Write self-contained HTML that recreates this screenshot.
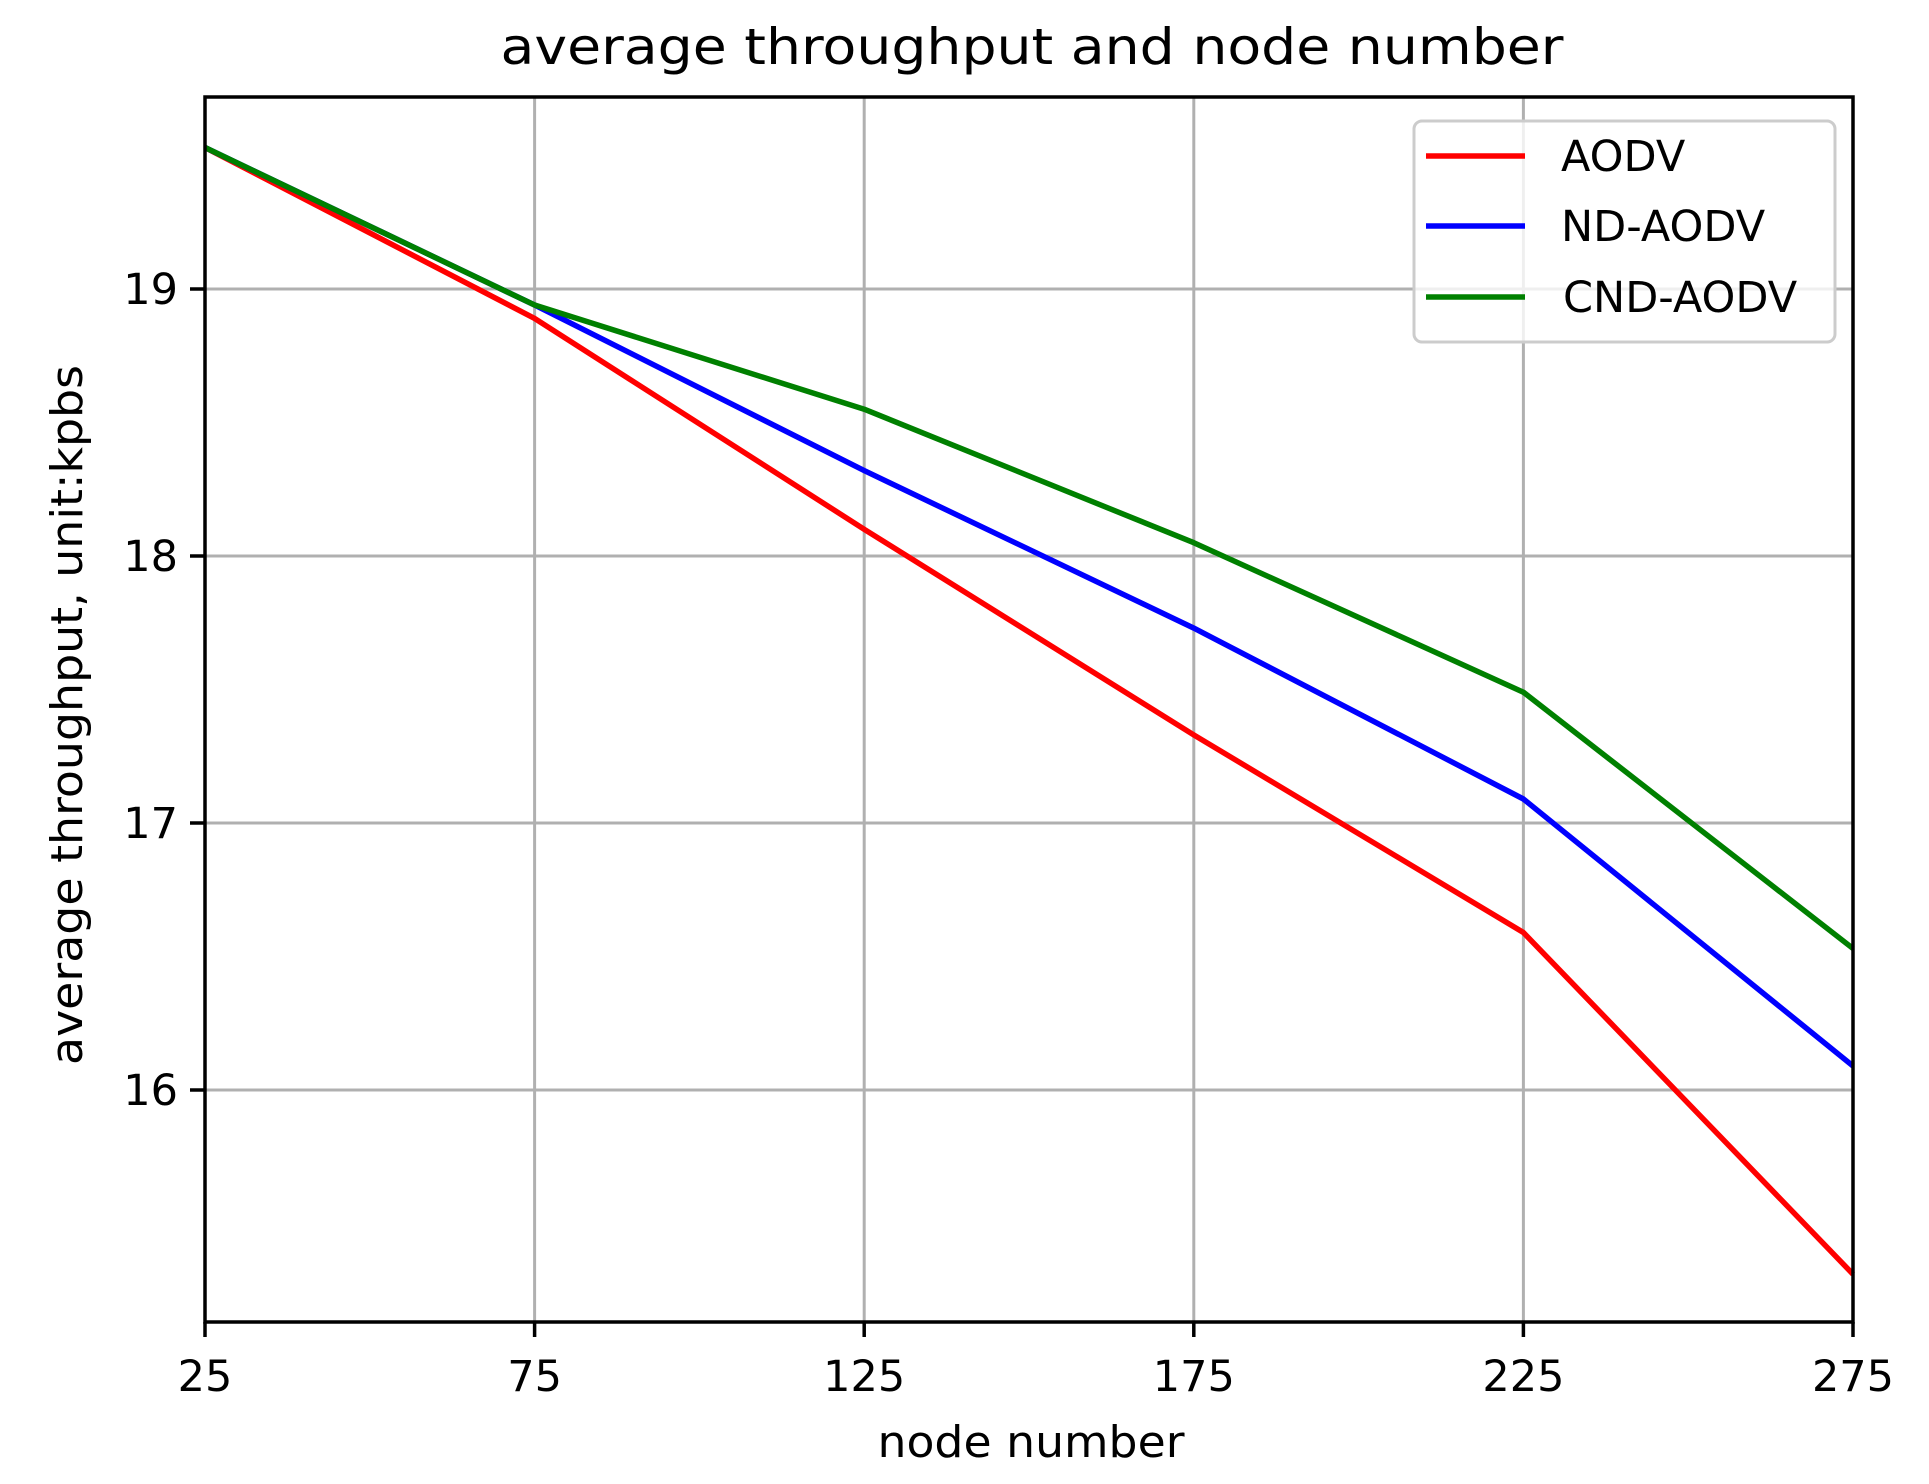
<!DOCTYPE html>
<html><head><meta charset="utf-8"><style>html,body{margin:0;padding:0;background:#fff}svg{display:block}</style></head>
<body>
<svg width="1929" height="1484" viewBox="0 0 1929 1484" xmlns="http://www.w3.org/2000/svg" font-family="DejaVu Sans, Liberation Sans, sans-serif">
<rect width="1929" height="1484" fill="#fff"/>
<g stroke="#b0b0b0" stroke-width="3">
<line x1="534.6" y1="97" x2="534.6" y2="1322"/>
<line x1="864.2" y1="97" x2="864.2" y2="1322"/>
<line x1="1193.8" y1="97" x2="1193.8" y2="1322"/>
<line x1="1523.4" y1="97" x2="1523.4" y2="1322"/>
<line x1="205" y1="289" x2="1853" y2="289"/>
<line x1="205" y1="556" x2="1853" y2="556"/>
<line x1="205" y1="823" x2="1853" y2="823"/>
<line x1="205" y1="1090" x2="1853" y2="1090"/>
</g>
<g fill="none" stroke-width="5.5" stroke-linejoin="round">
<polyline stroke="#ff0000" points="205,147.5 534.6,318.4 864.2,529.3 1193.8,734.9 1523.4,932.5 1853,1274.2"/>
<polyline stroke="#0000ff" points="205,147.5 534.6,305 864.2,470.6 1193.8,628.1 1523.4,799 1853,1066"/>
<polyline stroke="#008000" points="205,147.5 534.6,305 864.2,409.2 1193.8,542.7 1523.4,692.2 1853,948.5"/>
</g>
<rect x="205" y="97" width="1648" height="1225" fill="none" stroke="#000" stroke-width="3.5"/>
<g stroke="#000" stroke-width="3.5">
<line x1="205" y1="1322" x2="205" y2="1337"/><line x1="534.6" y1="1322" x2="534.6" y2="1337"/>
<line x1="864.2" y1="1322" x2="864.2" y2="1337"/><line x1="1193.8" y1="1322" x2="1193.8" y2="1337"/>
<line x1="1523.4" y1="1322" x2="1523.4" y2="1337"/><line x1="1853" y1="1322" x2="1853" y2="1337"/>
<line x1="190" y1="289" x2="205" y2="289"/><line x1="190" y1="556" x2="205" y2="556"/>
<line x1="190" y1="823" x2="205" y2="823"/><line x1="190" y1="1090" x2="205" y2="1090"/>
</g>
<g font-size="43" fill="#000" text-anchor="middle">
<text x="205" y="1391">25</text><text x="534.6" y="1391">75</text><text x="864.2" y="1391">125</text>
<text x="1193.8" y="1391">175</text><text x="1523.4" y="1391">225</text><text x="1853" y="1391">275</text>
</g>
<g font-size="43" fill="#000" text-anchor="end">
<text x="178" y="304">19</text><text x="178" y="571">18</text><text x="178" y="838">17</text><text x="178" y="1105">16</text>
</g>
<text x="1032" y="64" font-size="50" text-anchor="middle" textLength="1063" lengthAdjust="spacingAndGlyphs">average throughput and node number</text>
<text x="1031" y="1457" font-size="44" text-anchor="middle" textLength="307" lengthAdjust="spacingAndGlyphs">node number</text>
<text transform="translate(82,715) rotate(-90)" font-size="44" text-anchor="middle" textLength="700" lengthAdjust="spacingAndGlyphs">average throughput, unit:kpbs</text>
<rect x="1414" y="121" width="421" height="221" rx="8" fill="#fff" fill-opacity="0.8" stroke="#cccccc" stroke-width="3"/>
<g stroke-width="5.5">
<line x1="1426" y1="156" x2="1525" y2="156" stroke="#ff0000"/>
<line x1="1426" y1="226" x2="1525" y2="226" stroke="#0000ff"/>
<line x1="1426" y1="297" x2="1525" y2="297" stroke="#008000"/>
</g>
<g font-size="43" fill="#000">
<text x="1561" y="171">AODV</text>
<text x="1561" y="241">ND-AODV</text>
<text x="1563" y="312">CND-AODV</text>
</g>
</svg>
</body></html>
